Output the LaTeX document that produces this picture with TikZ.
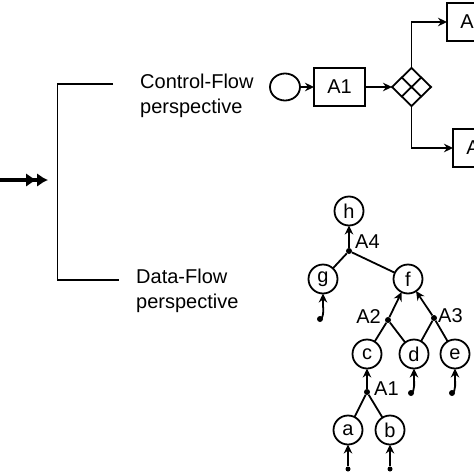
\documentclass[tikz,border=0pt]{standalone}
\usepackage{fontspec}
\setmainfont{Liberation Sans}
\usetikzlibrary{arrows.meta,calc,shapes.geometric}
\tikzset{
	flow/.style={line width=1.8pt, -{Stealth[length=9pt,width=8.5pt]}},
	plain/.style={line width=1.8pt},
	task/.style={draw, line width=1.8pt, minimum width=51pt, minimum height=38pt, inner sep=0pt, outer sep=0pt},
	startev/.style={draw, ellipse, line width=1.8pt, minimum width=30pt, minimum height=27pt, inner sep=0pt, outer sep=0pt},
	gateway/.style={draw, diamond, line width=1.8pt, minimum width=39pt, minimum height=38pt, inner sep=0pt, outer sep=0pt},
	var/.style={draw, circle, line width=1.8pt, minimum size=29pt, inner sep=0pt, outer sep=0pt},
	dot/.style={circle, fill, minimum size=6pt, inner sep=0pt},
	lbl/.style={inner sep=0pt}
}

\begin{document}
\begin{tikzpicture}[x=1pt, y=-1pt, every node/.style={font=\fontsize{20}{25}\selectfont}]
	\useasboundingbox (0,0) rectangle (474,474);
	\clip (0,0) rectangle (474,474);

	% big arrow and bracket
	\coordinate (lin) at (0,180);
	\coordinate (lout) at (48,180);
	\draw[line width=4.5pt, -{Latex[length=11pt,width=14pt]Latex[length=11pt,width=14pt]}] (lin) -- (lout);
	\coordinate (cf) at (113,84);
	\coordinate (df) at (119,280);
	\draw[plain] (cf) -- ++(-55.5,0) |- (df);

	\node[lbl, anchor=west, align=left] (cflbl) at (140,96) {Control-Flow\\perspective};
	\node[lbl, anchor=west, align=left] (dflbl) at (136,290.5) {Data-Flow\\perspective};

	% control flow
	\node[startev] (start) at (285,87) {};
	\node[task] (a1) at (339.5,87) {A1};
	\node[gateway] (gw) at (411.5,87) {};
	\draw[plain] ($(gw.north)!0.5!(gw.west)$) -- ($(gw.south)!0.5!(gw.east)$);
	\draw[plain] ($(gw.north)!0.5!(gw.east)$) -- ($(gw.south)!0.5!(gw.west)$);
	\node[task] (a2) at (472.5,22) {A2};
	\node[task] (a3) at (478.5,148) {A3};

	\draw[flow] (start) -- (a1);
	\draw[flow] (a1) -- (gw);
	\draw[flow] (gw.north) |- (a2.west);
	\draw[flow] (gw.south) |- (a3.west);

	% data flow
	\node[var] (h) at (349,211) {h};
	\node[var] (g) at (323,279) {g};
	\node[var] (f) at (408,279) {f};
	\node[var] (c) at (367,354) {c};
	\node[var] (d) at (414,354) {d};
	\node[var] (e) at (455,354) {e};
	\node[var] (a) at (348,430) {a};
	\node[var] (b) at (390,430) {b};

	\node[dot] (j4) at (349,251) {};
	\node[dot] (j2) at (388,320) {};
	\node[dot] (j3) at (434,318) {};
	\node[dot] (j1) at (367,392) {};

	\node[lbl, anchor=west] (la4) at (355,242) {A4};
	\node[lbl, anchor=east] (la2) at (381,317) {A2};
	\node[lbl, anchor=west] (la3) at (438,316) {A3};
	\node[lbl, anchor=west] (la1) at (374,389) {A1};

	\draw[flow] (j4) -- (h);
	\draw[plain] (g) -- (j4);
	\draw[plain] (f) -- (j4);
	\draw[flow] (j2) -- (f);
	\draw[flow] (j3) -- (f);
	\draw[plain] (c) -- (j2);
	\draw[plain] (d) -- (j2);
	\draw[plain] (d) -- (j3);
	\draw[plain] (e) -- (j3);
	\draw[flow] (j1) -- (c);
	\draw[plain] (a) -- (j1);
	\draw[plain] (b) -- (j1);

	% inputs
	\node[dot] (gin) at (320,319) {};
	\node[dot] (din) at (411,393) {};
	\node[dot] (ein) at (452,393) {};
	\node[dot, minimum size=5pt] (ain) at (348,469) {};
	\node[dot, minimum size=5pt] (bin) at (390,469) {};

	\draw[flow] (gin.center) to[out=0, in=90] ($(g.south)+(0,14)$) -- (g);
	\draw[flow] (din.center) to[out=0, in=90] ($(d.south)+(0,14)$) -- (d);
	\draw[flow] (ein.center) to[out=0, in=90] ($(e.south)+(0,14)$) -- (e);
	\draw[flow] (ain) -- (a);
	\draw[flow] (bin) -- (b);
\end{tikzpicture}
\end{document}
